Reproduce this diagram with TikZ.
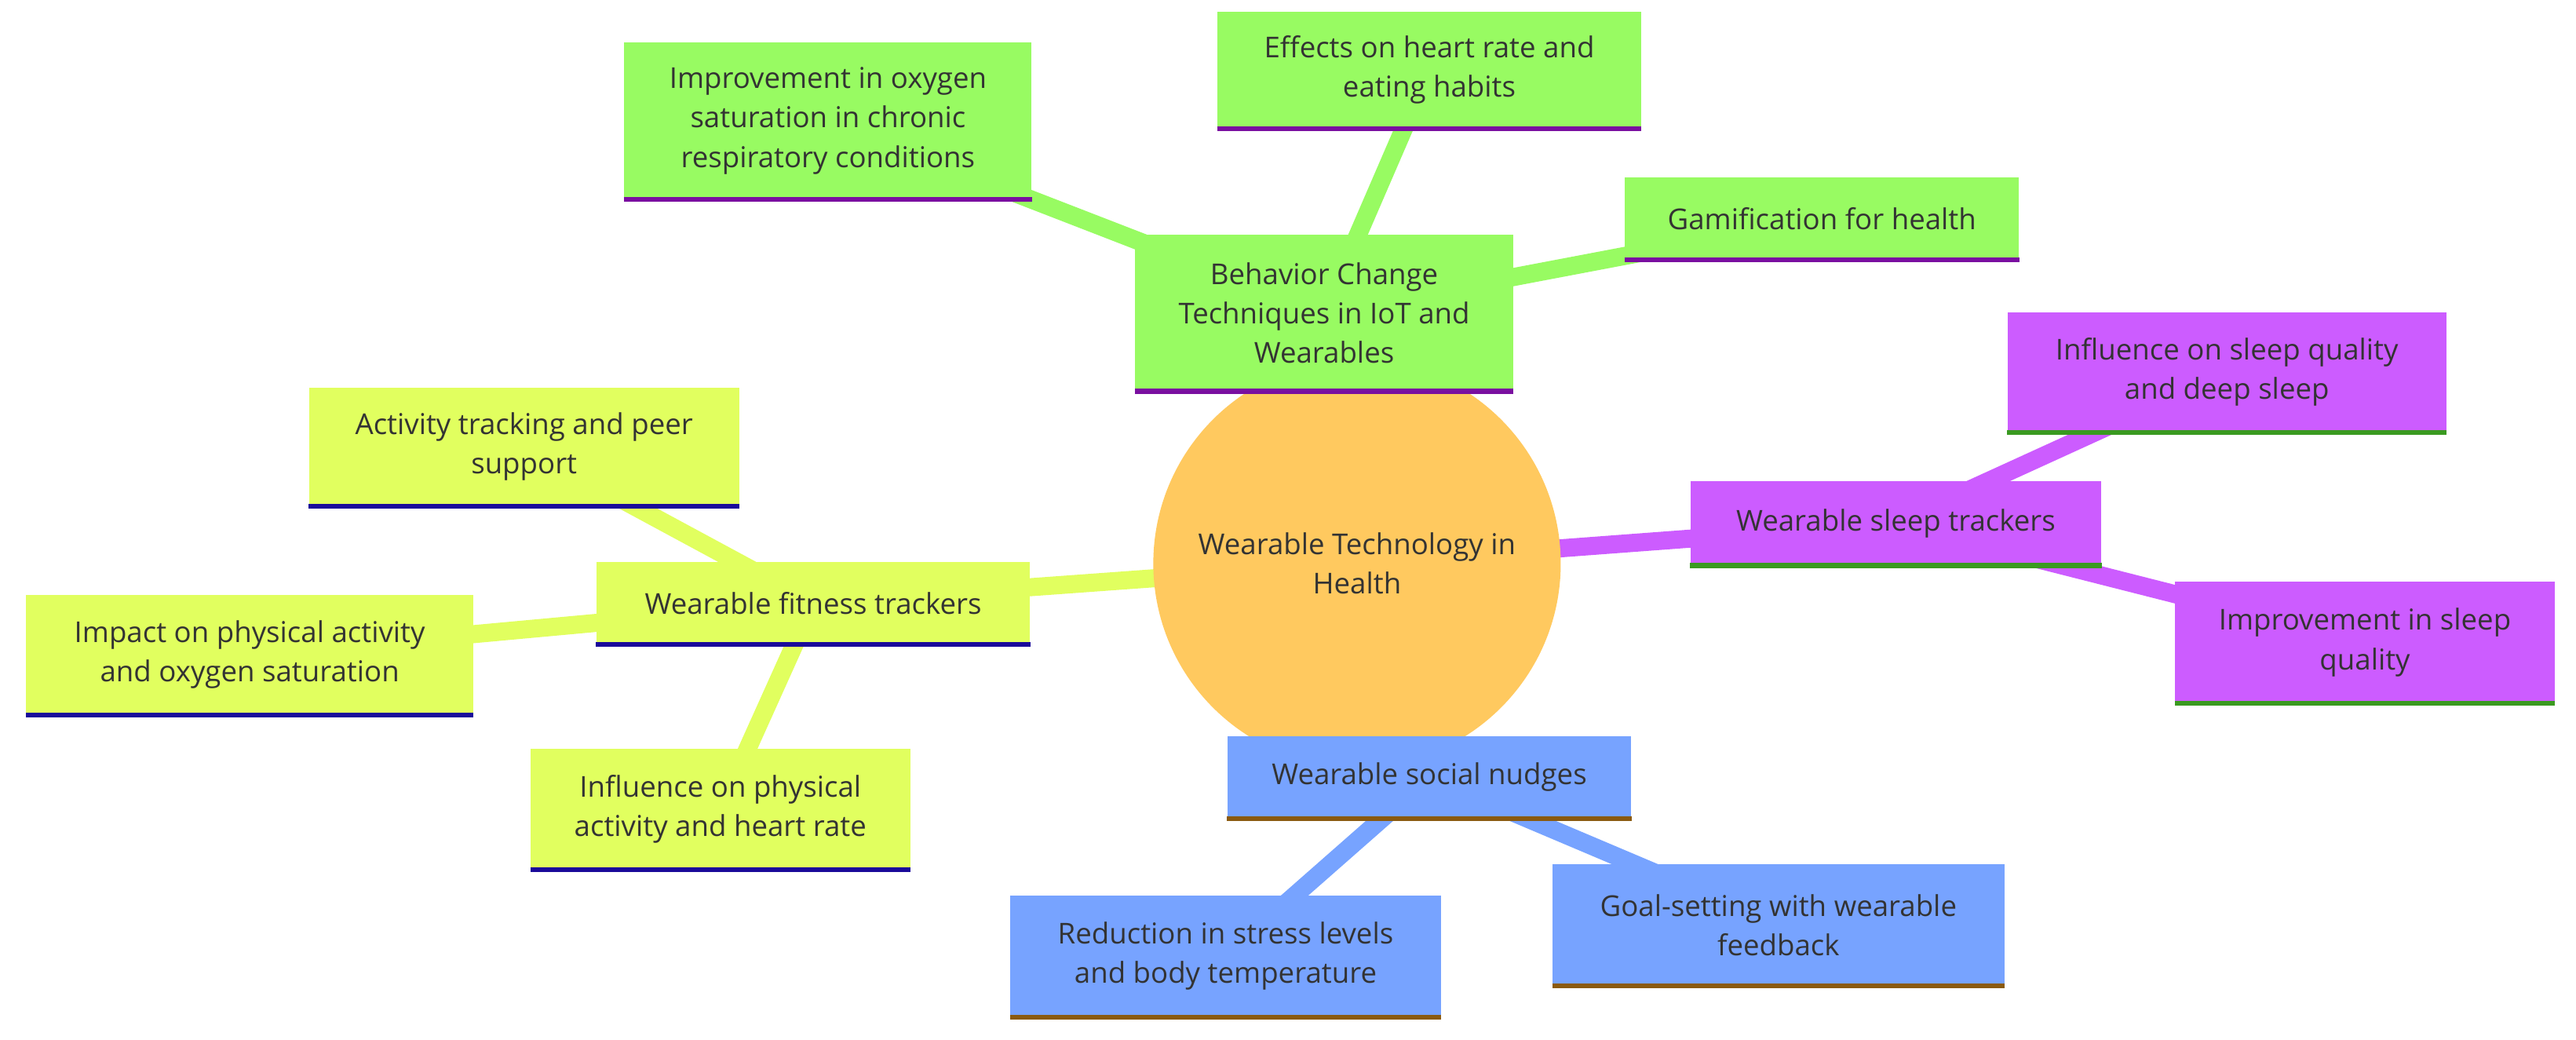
\documentclass[tikz,border=0pt]{standalone}
\usepackage{fontspec}
\setmainfont{Open Sans}
\definecolor{cg}{HTML}{98FB62}\definecolor{ug}{HTML}{7A0FA0}
\definecolor{cy}{HTML}{E1FF5F}\definecolor{uy}{HTML}{1A0A9A}
\definecolor{cp}{HTML}{CC5CFF}\definecolor{up}{HTML}{3A9A20}
\definecolor{cb}{HTML}{77A3FF}\definecolor{ub}{HTML}{8A5A10}
\definecolor{co}{HTML}{FFC95F}\definecolor{tx}{HTML}{333333}
\tikzset{
 box/.style={rectangle,fill=#1,inner sep=0pt,align=center,text=tx,font=\fontsize{17.5}{24}\selectfont},
 ul/.style={line width=3pt,#1},
 edge/.style={line width=11pt,#1}
}
\newcommand{\bx}[8]{\node[box=#1,minimum width=#5pt,minimum height=#6pt] (#3) at (#4) {#7};
 \draw[ul=#2] (#3.south west) -- (#3.south east);}
\begin{document}
\begin{tikzpicture}[x=1pt,y=-1pt]
\useasboundingbox (0,0) rectangle (1568,633);
\coordinate (c) at (826,343);
\coordinate (beh) at (806,190.5);
\coordinate (oxy) at (504,73.5);
\coordinate (eff) at (870,42.5);
\coordinate (gam) at (1109,133);
\coordinate (fit) at (495,367);
\coordinate (act) at (319,272);
\coordinate (imp) at (152,398.5);
\coordinate (inf) at (438.5,492.5);
\coordinate (slp) at (1154,318.5);
\coordinate (isl) at (1355.5,226.5);
\coordinate (msl) at (1439.5,391);
\coordinate (soc) at (870,473);
\coordinate (red) at (746,582);
\coordinate (goa) at (1082.5,563);
\draw[edge=cg,line width=7pt] (c) -- (beh);
\draw[edge=cg] (beh) -- (oxy); \draw[edge=cg] (beh) -- (eff); \draw[edge=cg] (beh) -- (gam);
\draw[edge=cy] (c) -- (fit);
\draw[edge=cy] (fit) -- (act); \draw[edge=cy] (fit) -- (imp); \draw[edge=cy] (fit) -- (inf);
\draw[edge=cp] (c) -- (slp);
\draw[edge=cp] (slp) -- (isl); \draw[edge=cp] (slp) -- (msl);
\draw[edge=cb] (c) -- (soc);
\draw[edge=cb] (soc) -- (red); \draw[edge=cb] (soc) -- (goa);
\fill[co] (c) circle (124);
\node[text=tx,align=center,font=\fontsize{17.5}{24}\selectfont] (center) at (c) {Wearable Technology in\\Health};
\bx{cg}{ug}{nbeh}{beh}{230}{95}{Behavior Change\\Techniques in IoT and\\Wearables}{}
\bx{cg}{ug}{noxy}{oxy}{248}{95}{Improvement in oxygen\\saturation in chronic\\respiratory conditions}{}
\bx{cg}{ug}{neff}{eff}{258}{71}{Effects on heart rate and\\eating habits}{}
\bx{cg}{ug}{ngam}{gam}{240}{50}{Gamification for health}{}
\bx{cy}{uy}{nfit}{fit}{264}{50}{Wearable fitness trackers}{}
\bx{cy}{uy}{nact}{act}{262}{72}{Activity tracking and peer\\support}{}
\bx{cy}{uy}{nimp}{imp}{272}{73}{Impact on physical activity\\and oxygen saturation}{}
\bx{cy}{uy}{ninf}{inf}{231}{73}{Influence on physical\\activity and heart rate}{}
\bx{cp}{up}{nslp}{slp}{250}{51}{Wearable sleep trackers}{}
\bx{cp}{up}{nisl}{isl}{267}{73}{Influence on sleep quality\\and deep sleep}{}
\bx{cp}{up}{nmsl}{msl}{231}{74}{Improvement in sleep\\quality}{}
\bx{cb}{ub}{nsoc}{soc}{246}{50}{Wearable social nudges}{}
\bx{cb}{ub}{nred}{red}{262}{74}{Reduction in stress levels\\and body temperature}{}
\bx{cb}{ub}{ngoa}{goa}{275}{74}{Goal-setting with wearable\\feedback}{}
\end{tikzpicture}
\end{document}
